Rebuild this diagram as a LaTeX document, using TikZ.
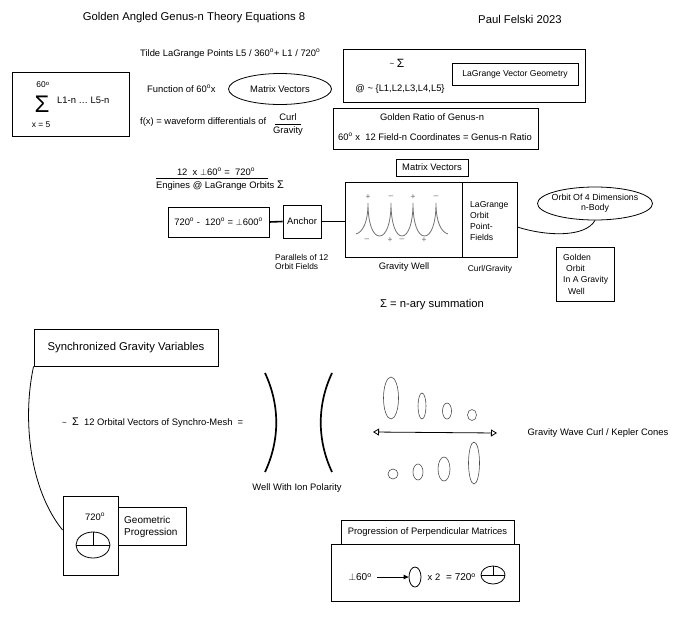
\documentclass[tikz,border=0pt]{standalone}
\usepackage{fontspec}
\setmainfont{Liberation Sans}
\usetikzlibrary{arrows.meta,shapes.geometric}
\newcommand{\dg}{\textsuperscript{o}}
\begin{document}
\begin{tikzpicture}[x=1pt,y=-1pt,
  t/.style={inner sep=0pt, font=\fontsize{9.4}{11}\selectfont},
  tm/.style={inner sep=0pt, font=\fontsize{8.6}{10}\selectfont},
  ts/.style={inner sep=0pt, font=\fontsize{8.4}{9.5}\selectfont},
  tb/.style={inner sep=0pt, font=\fontsize{11.3}{13}\selectfont},
  bx/.style={draw, line width=0.9pt, inner sep=0pt},
  ln/.style={line width=0.8pt},
  ov/.style={draw=black!70, line width=0.6pt, ellipse, inner sep=0pt}
]
\useasboundingbox (0,0) rectangle (687,640);
% titles
\node[tb] (title) at (194,18) {Golden Angled Genus-n Theory Equations 8};
\node[tb] (author) at (520,19) {Paul Felski 2023};
% sum box
\node[bx, minimum width=117pt, minimum height=64pt] (sumbox) at (70.5,104) {};
\node[inner sep=0pt, font=\fontsize{24}{24}\selectfont] (bigsum) at (42,104) {Σ};
\node[ts] (sumtop) at (43,85) {60\dg};
\node[ts] (sumbot) at (41,125) {x = 5};
\node[t, anchor=west] (sumL) at (57,100) {L1-n … L5-n};
% top middle texts
\node[t, anchor=west] (tilde) at (140,54) {Tilde LaGrange Points L5 / 360\dg+ L1 / 720\dg};
\node[t, anchor=west] (func) at (147,89) {Function of 60\dg x};
\node[draw, ellipse, line width=0.8pt, minimum width=103pt, minimum height=31pt, inner sep=0pt, t] (mvell) at (280,89) {Matrix Vectors};
\node[t, anchor=west] (fx) at (140,122) {f(x) = waveform differentials of};
\node[t] (curl) at (288,117) {Curl};
\node[t] (grav) at (288,131) {Gravity};
\draw[ln] (275,124) -- (301,124);
% fraction
\node[t] (twelve) at (216,172) {12 \ x $\perp$60\dg\ = \ 720\dg};
\draw[ln] (156,178) -- (268,178);
\node[t] (engines) at (220,186) {Engines @ LaGrange Orbits {\fontsize{11}{11}\selectfont Σ}};
% top right box
\node[bx, minimum width=242pt, minimum height=53pt] (tildebox) at (464,75.5) {};
\node[t] (tsig) at (397,63) {\raisebox{1pt}{\fontsize{8}{8}\selectfont \textasciitilde}\ {\fontsize{12}{12}\selectfont Σ}};
\node[t] (atset) at (400,89) {@ \textasciitilde\ \{L1,L2,L3,L4,L5\}};
\node[bx, minimum width=126pt, minimum height=22pt, tm] (lvg) at (515,74) {LaGrange Vector Geometry};
% golden ratio box
\node[bx, minimum width=205pt, minimum height=41pt] (grbox) at (435.5,128.5) {};
\node[t] (grt) at (432,117) {Golden Ratio of Genus-n};
\node[t] (grb) at (435,137) {60\dg\ x \ 12 Field-n Coordinates = Genus-n Ratio};
% matrix vectors box
\node[bx, minimum width=72pt, minimum height=17pt, t] (mvbox) at (432,167.5) {Matrix Vectors};
% big box
\node[bx, minimum width=117pt, minimum height=75pt] (gwbox) at (403.5,219.5) {};
\node[bx, minimum width=55pt, minimum height=75pt] (lgbox) at (489.5,219.5) {};
\node[tm, anchor=west, align=left] (lgtext) at (470,221.5) {LaGrange\\[1pt]Orbit\\[1pt]Point-\\[1pt]Fields};
% gravity well curve
\draw[black!55, line width=0.8pt]
  (356,234) .. controls (363,232) and (368,222) .. (368,203)
  .. controls (368,224) and (373,236) .. (379.5,236)
  .. controls (386,236) and (391,224) .. (391,203)
  .. controls (391,224) and (396,236) .. (402,236)
  .. controls (408,236) and (413,224) .. (413,203)
  .. controls (413,224) and (418,236) .. (424.5,236)
  .. controls (431,236) and (436,224) .. (436,203)
  .. controls (436,222) and (441,232) .. (448,234);
\node[ts, black!60] (p1) at (368,197) {+};
\node[ts, black!60] (m1) at (391,197) {–};
\node[ts, black!60] (p2) at (413,197) {+};
\node[ts, black!60] (m2) at (436,197) {–};
\node[ts, black!60] (m3) at (367,240) {–};
\node[ts, black!60] (p3) at (390,240) {+};
\node[ts, black!60] (m4) at (402,240) {–};
\node[ts, black!60] (p4) at (424,240) {+};
\node[t] (gwlabel) at (404,267) {Gravity Well};
\node[ts] (cglabel) at (490,269) {Curl/Gravity};
% orbit ellipse
\node[draw, ellipse, line width=0.8pt, minimum width=115pt, minimum height=33pt, inner sep=0pt] (orbell) at (595,203.5) {};
\node[inner sep=0pt, font=\fontsize{8.8}{10.5}\selectfont, align=center] (orbtext) at (595,203) {Orbit Of 4 Dimensions\\[0pt]n-Body};
\draw[ln] (lgbox.east |- 0,227) .. controls (545,236) and (585,238) .. (orbell.south);
% golden orbit box
\node[bx, minimum width=58pt, minimum height=54pt] (gobox) at (585,274) {};
\node[tm, anchor=west] (go1) at (563,257) {Golden};
\node[tm, anchor=west] (go2) at (566,268.5) {Orbit};
\node[tm, anchor=west] (go3) at (563,280) {In A Gravity};
\node[tm, anchor=west] (go4) at (568,291.5) {Well};
% equation and anchor
\node[bx, minimum width=101pt, minimum height=30pt, t] (eqbox) at (218.5,222) {720\dg\ - \ 120\dg\ = $\perp$600\dg};
\node[bx, minimum width=38pt, minimum height=33pt, t] (anchor) at (302,221.5) {Anchor};
\draw[line width=1.6pt] (eqbox.east) -- (anchor.west);
\draw[ln] (anchor.east) -- (gwbox.west |- anchor.east);
\node[ts, anchor=west, align=left] (parallels) at (275,262) {Parallels of 12\\[0pt]Orbit Fields};
\node[tb] (nary) at (432,305) {Σ = n-ary summation};
% bottom section
\node[bx, minimum width=184pt, minimum height=37pt, tb] (sgv) at (126,347.5) {Synchronized Gravity Variables};
\node[t, anchor=west] (orbvec) at (62,423) {\raisebox{0.5pt}{\fontsize{8}{8}\selectfont \textasciitilde}\ \ {\fontsize{11}{11}\selectfont Σ} \ 12 Orbital Vectors of Synchro-Mesh \ =};
\coordinate (rp1) at (265,373);
\coordinate (rp2) at (265,472);
\coordinate (lp1) at (332,373);
\coordinate (lp2) at (332,472);
\draw[line width=1.7pt] (rp1) .. controls (280,405) and (280,440) .. (rp2);
\draw[line width=1.7pt] (lp1) .. controls (317,405) and (317,440) .. (lp2);
\node[t] (wwip) at (297,488) {Well With Ion Polarity};
% geometric progression
\node[bx, minimum width=55pt, minimum height=79pt] (gpbox) at (90.5,535.5) {};
\node[t] (g720) at (95,517) {720\dg};
\draw[ln] (93,545) ellipse (17pt and 13pt);
\draw[ln] (76,545) -- (110,545);
\draw[ln] (93,532) -- (93,545);
\node[bx, minimum width=68pt, minimum height=38pt] (gptext) at (152,526) {};
\node[inner sep=0pt, font=\fontsize{10}{12}\selectfont, anchor=west, align=left] (gpt) at (124,527) {Geometric\\[0pt]Progression};
\draw[ln] (sgv.south west) .. controls (22,420) and (30,490) .. (gpbox.west |- 0,530);
% cones
\node[ov, minimum width=15pt, minimum height=42pt] (c1) at (391,398) {};
\node[ov, minimum width=8pt, minimum height=26pt] (c2) at (422,406) {};
\node[ov, minimum width=9pt, minimum height=16pt] (c3) at (447,411) {};
\node[ov, minimum width=9pt, minimum height=11pt] (c4) at (472,415) {};
\node[ov, minimum width=10pt, minimum height=10pt] (c5) at (393,474) {};
\node[ov, minimum width=10pt, minimum height=16pt] (c6) at (418,472) {};
\node[ov, minimum width=12pt, minimum height=24pt] (c7) at (444,469) {};
\node[ov, minimum width=11pt, minimum height=42pt] (c8) at (474,463) {};
\coordinate (al) at (373,432);
\coordinate (ar) at (497,433);
\draw[line width=0.8pt, {Triangle[open,length=6pt,width=7pt]}-{Triangle[open,length=6pt,width=7pt]}] (al) -- (ar);
\node[t] (gwc) at (598,433) {Gravity Wave Curl / Kepler Cones};
% progression
\node[bx, minimum width=173pt, minimum height=24pt, t] (ppm) at (427.5,532) {Progression of Perpendicular Matrices};
\node[bx, minimum width=188pt, minimum height=57pt] (ppbox) at (425,572.5) {};
\node[t, font=\fontsize{10}{12}\selectfont] (perp60) at (360,577) {$\perp$60\dg};
\node[draw, ellipse, line width=0.8pt, minimum width=12pt, minimum height=20pt, inner sep=0pt] (pe) at (415,577) {};
\draw[ln, -{Triangle[length=5pt,width=4.5pt]}] (perp60.east) ++(5,0) -- (pe.west);
\node[t] (x2) at (434,577) {x 2};
\node[t, font=\fontsize{10}{12}\selectfont] (eq720) at (461,577) {= 720\dg};
\draw[ln] (493,575) ellipse (12pt and 9pt);
\draw[ln] (481,575) -- (505,575);
\draw[ln] (493,566) -- (493,575);
\end{tikzpicture}
\end{document}
